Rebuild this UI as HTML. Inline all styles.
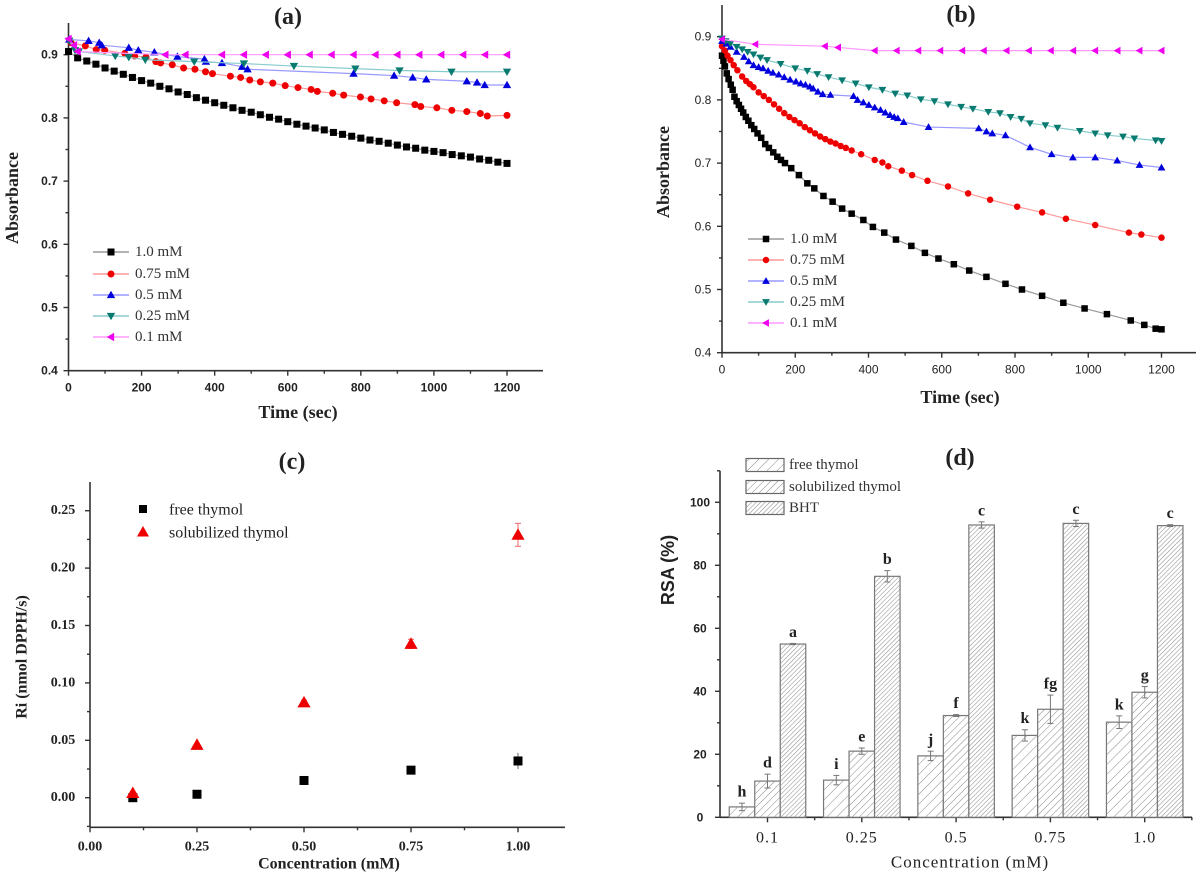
<!DOCTYPE html>
<html><head><meta charset="utf-8"><style>
html,body{margin:0;padding:0;background:#fff;}
svg{display:block;}
</style></head><body>
<svg id="fig" width="1200" height="878" viewBox="0 0 1200 878" xmlns="http://www.w3.org/2000/svg">
<defs>
<pattern id="h1" patternUnits="userSpaceOnUse" width="7" height="7" patternTransform="rotate(45)"><line x1="0" y1="0" x2="0" y2="7" stroke="#888" stroke-width="1"/></pattern>
<pattern id="h2" patternUnits="userSpaceOnUse" width="5" height="5" patternTransform="rotate(45)"><line x1="0" y1="0" x2="0" y2="5" stroke="#888" stroke-width="1"/></pattern>
<pattern id="h3" patternUnits="userSpaceOnUse" width="3.2" height="3.2" patternTransform="rotate(45)"><line x1="0" y1="0" x2="0" y2="3.2" stroke="#888" stroke-width="1"/></pattern>
</defs>
</svg>
<script>
// ---------- Panel (a) data ----------
const aT_black=[0,25,50,75,100,125,150,175,200,225,250,275,300,325,350,375,400,425,450,475,500,525,550,575,600,625,650,675,700,725,750,775,800,825,850,875,900,925,950,975,1000,1025,1050,1075,1100,1125,1150,1175,1200];
const aV_black=[0.905,0.895,0.89,0.885,0.879,0.874,0.869,0.864,0.859,0.855,0.850,0.846,0.841,0.837,0.832,0.828,0.824,0.820,0.816,0.812,0.809,0.805,0.801,0.798,0.794,0.790,0.787,0.784,0.781,0.777,0.774,0.771,0.768,0.765,0.763,0.760,0.757,0.754,0.752,0.749,0.747,0.745,0.742,0.740,0.738,0.735,0.733,0.730,0.728];
const aT_red=[7,46,76,99,154,181,212,239,252,284,315,346,375,394,443,471,496,525,559,593,628,664,681,723,753,799,828,864,898,948,964,1008,1049,1090,1127,1146,1200];
const aV_red=[0.919,0.914,0.908,0.907,0.902,0.898,0.896,0.889,0.887,0.884,0.879,0.877,0.873,0.870,0.866,0.864,0.860,0.857,0.855,0.851,0.848,0.845,0.842,0.839,0.836,0.833,0.830,0.827,0.824,0.821,0.818,0.816,0.812,0.810,0.807,0.803,0.804];
const aT_blue=[2,55,84,91,165,191,235,298,372,376,420,475,490,780,891,942,979,1090,1118,1139,1200];
const aV_blue=[0.924,0.922,0.919,0.915,0.911,0.907,0.904,0.897,0.893,0.889,0.887,0.881,0.877,0.870,0.867,0.864,0.861,0.858,0.856,0.852,0.852];
const aT_teal=[2,18,28,128,165,210,344,480,617,785,906,1048,1200];
const aV_teal=[0.922,0.907,0.905,0.898,0.896,0.892,0.889,0.886,0.882,0.878,0.875,0.873,0.873];
const aT_mag=[0,15,25,265,320,420,480,540,600,660,720,780,840,900,960,1020,1080,1140,1200];
const aV_mag=[0.925,0.915,0.905,0.90,0.90,0.90,0.90,0.90,0.90,0.90,0.90,0.90,0.90,0.90,0.90,0.90,0.90,0.90,0.90];
// ---------- Panel (b) data ----------
const bT_black=[0,4,8,13,18,24,29,34,40,46,52,58,65,72,80,88,97,107,118,128,140,151,161,172,189,210,233,252,277,302,328,354,386,412,443,475,517,554,591,633,675,722,774,819,874,932,990,1051,1116,1153,1184,1200];
const bV_black=[0.870,0.862,0.853,0.842,0.833,0.824,0.816,0.805,0.798,0.792,0.786,0.780,0.773,0.767,0.760,0.754,0.747,0.740,0.730,0.724,0.717,0.710,0.705,0.700,0.692,0.681,0.668,0.660,0.648,0.639,0.628,0.620,0.610,0.599,0.590,0.579,0.569,0.558,0.549,0.540,0.530,0.520,0.509,0.500,0.490,0.479,0.470,0.461,0.451,0.444,0.438,0.437];
const bT_red=[0,8,15,23,32,42,55,66,76,86,100,114,128,142,156,170,184,198,212,226,240,254,268,282,296,310,324,338,354,380,417,438,454,491,519,561,617,672,732,806,874,939,1019,1111,1145,1200];
const bV_red=[0.885,0.878,0.870,0.863,0.855,0.847,0.837,0.830,0.825,0.820,0.812,0.806,0.800,0.793,0.786,0.779,0.773,0.768,0.763,0.757,0.752,0.747,0.742,0.738,0.734,0.731,0.727,0.724,0.720,0.714,0.705,0.701,0.695,0.688,0.681,0.672,0.663,0.652,0.642,0.631,0.622,0.612,0.602,0.590,0.587,0.582];
const bT_blue=[0,12,23,40,60,73,86,100,112,126,139,155,170,186,202,215,228,240,249,262,275,296,359,370,386,401,417,433,446,459,470,480,496,564,701,722,738,774,841,900,958,1019,1079,1140,1200];
const bV_blue=[0.893,0.889,0.884,0.876,0.868,0.861,0.855,0.852,0.850,0.846,0.843,0.840,0.836,0.832,0.829,0.826,0.824,0.821,0.818,0.813,0.809,0.808,0.806,0.800,0.796,0.792,0.788,0.784,0.780,0.776,0.773,0.771,0.765,0.757,0.755,0.750,0.747,0.744,0.725,0.714,0.709,0.709,0.704,0.697,0.693];
const bT_teal=[0,10,23,40,55,70,86,105,123,160,200,233,260,291,328,365,401,438,473,506,543,580,617,653,685,727,759,788,817,841,883,916,977,1019,1053,1095,1126,1184,1200];
const bV_teal=[0.897,0.893,0.889,0.884,0.880,0.876,0.872,0.867,0.863,0.857,0.850,0.846,0.841,0.836,0.831,0.826,0.820,0.816,0.810,0.807,0.801,0.798,0.793,0.789,0.786,0.781,0.779,0.773,0.770,0.763,0.760,0.756,0.751,0.747,0.744,0.742,0.739,0.736,0.735];
const bT_mag=[0,91,281,317,417,477,536,596,656,715,777,838,898,959,1019,1080,1140,1200];
const bV_mag=[0.896,0.888,0.885,0.883,0.878,0.878,0.878,0.878,0.878,0.878,0.878,0.878,0.878,0.878,0.878,0.878,0.878,0.878];
// ---------- Panel (c) data ----------
const cX=[0.1,0.25,0.5,0.75,1.0];
const cFree=[0.000,0.003,0.015,0.024,0.032];
const cFreeErr=[0.001,0.001,0.001,0.002,0.007];
const cSol=[0.004,0.046,0.083,0.134,0.229];
const cSolErr=[0.001,0.001,0.002,0.004,0.010];
// ---------- Panel (d) data ----------
const dCats=["0.1","0.25","0.5","0.75","1.0"];
const dFree=[3.3,11.8,19.5,26.0,30.2];
const dFreeErr=[1.2,1.5,1.5,1.8,2.0];
const dSol=[11.5,21.0,32.3,34.3,39.7];
const dSolErr=[2.2,1.0,0.3,4.5,1.8];
const dBHT=[55.0,76.5,92.8,93.3,92.6];
const dBHTErr=[0.2,1.8,1.0,1.0,0.3];
const dFreeLbl=["h","i","j","k","k"];
const dSolLbl=["d","e","f","fg","g"];
const dBHTLbl=["a","b","c","c","c"];

const svg=document.getElementById('fig');
const NS='http://www.w3.org/2000/svg';
function el(tag,attrs,parent){const e=document.createElementNS(NS,tag);for(const k in attrs)e.setAttribute(k,attrs[k]);(parent||svg).appendChild(e);return e;}
function txt(s,x,y,style,parent){const t=el('text',{x:x,y:y,'dominant-baseline':'central','text-anchor':'middle',style:style},parent);t.textContent=s;return t;}
function grp(name){const g=el('g',{});return g;}

function marker(g,shape,x,y,c,s){
  let m;
  if(shape==='sq') m=el('rect',{x:x-s/2,y:y-s/2,width:s,height:s,fill:c},g);
  else if(shape==='ci') m=el('circle',{cx:x,cy:y,r:s/2,fill:c},g);
  else if(shape==='up') m=el('polygon',{points:`${x},${y-s*0.6} ${x-s*0.6},${y+s*0.45} ${x+s*0.6},${y+s*0.45}`,fill:c},g);
  else if(shape==='dn') m=el('polygon',{points:`${x},${y+s*0.6} ${x-s*0.6},${y-s*0.45} ${x+s*0.6},${y-s*0.45}`,fill:c},g);
  else m=el('polygon',{points:`${x-s*0.6},${y} ${x+s*0.45},${y-s*0.6} ${x+s*0.45},${y+s*0.6}`,fill:c},g);
  return m;
}

const AX='#333';
function axes(g,x0,x1,yTop,yBot){
  el('line',{x1:x0,y1:yTop,x2:x0,y2:yBot,stroke:AX,'stroke-width':1.6},g);
  el('line',{x1:x0,y1:yBot,x2:x1,y2:yBot,stroke:AX,'stroke-width':1.6},g);
}

// ---------- Kinetic panels ----------
function kinetic(name,P,series,tickBold,legY,legLX,legTX,ms){
  const g=grp(name);
  const sx=t=>P.x0+t*(P.x1200-P.x0)/1200;
  const sy=v=>P.y09+(0.9-v)*(P.y04-P.y09)/0.5;
  axes(g,P.x0,P.xEnd,P.yTop,P.y04);
  const tf=`font-family:"Liberation Sans",sans-serif;font-size:12px;fill:#222;${tickBold?'font-weight:bold;':''}`;
  for(let v=0.4;v<=0.9001;v+=0.05){
    const y=sy(v);const major=Math.round(v*100)%10===0;
    el('line',{x1:P.x0-(major?5:3),y1:y,x2:P.x0,y2:y,stroke:AX,'stroke-width':1.4},g);
    if(major){const t=txt(v.toFixed(1),P.x0-19,y,tf,g);}
  }
  for(let t=0;t<=1300;t+=100){
    const x=sx(t);if(x>P.xEnd)break;const major=t%200===0;
    el('line',{x1:x,y1:P.y04,x2:x,y2:P.y04+(major?5:3),stroke:AX,'stroke-width':1.4},g);
    if(major&&t<=1200){const l=txt(String(t),x,P.y04+17,tf,g);}
  }
  series.forEach((s,i)=>{
    const sg=el('g',{},g);
    
    
    el('polyline',{points:s.t.map((t,j)=>sx(t)+','+sy(s.v[j])).join(' '),fill:'none',stroke:s.lc,'stroke-width':1.2},sg);
    s.t.forEach((t,j)=>{const m=marker(sg,s.sh,sx(t),sy(s.v[j]),s.c,ms);});
    // legend
    const lg=el('g',{},g);
    
    
    el('line',{x1:legLX,y1:legY[i],x2:legLX+36,y2:legY[i],stroke:s.lc,'stroke-width':1.6},lg);
    marker(lg,s.sh,legLX+18,legY[i],s.c,ms);
    const lt=txt(s.lab,legTX,legY[i],'font-family:"Liberation Serif",serif;font-size:15px;fill:#333;',lg);lt.setAttribute('text-anchor','start');
  });
  return {g,sx,sy};
}
const aSeries=[
 {t:aT_black,v:aV_black,c:'#000',lc:'#999',sh:'sq',lab:'1.0 mM'},
 {t:aT_red,v:aV_red,c:'#e00',lc:'#f99',sh:'ci',lab:'0.75 mM'},
 {t:aT_blue,v:aV_blue,c:'#00d',lc:'#99f',sh:'up',lab:'0.5 mM'},
 {t:aT_teal,v:aV_teal,c:'#087a70',lc:'#8cc',sh:'dn',lab:'0.25 mM'},
 {t:aT_mag,v:aV_mag,c:'#e0e',lc:'#f9f',sh:'lf',lab:'0.1 mM'}];
const bSeries=[
 {t:bT_black,v:bV_black,c:'#000',lc:'#999',sh:'sq',lab:'1.0 mM'},
 {t:bT_red,v:bV_red,c:'#e00',lc:'#f99',sh:'ci',lab:'0.75 mM'},
 {t:bT_blue,v:bV_blue,c:'#00d',lc:'#99f',sh:'up',lab:'0.5 mM'},
 {t:bT_teal,v:bV_teal,c:'#087a70',lc:'#8cc',sh:'dn',lab:'0.25 mM'},
 {t:bT_mag,v:bV_mag,c:'#e0e',lc:'#f9f',sh:'lf',lab:'0.1 mM'}];

const pa=kinetic('panel-a',{x0:68.5,x1200:507,xEnd:543,y09:54.7,y04:370.7,yTop:23},aSeries,true,[252,274,295,316,337],93,135,7);
const ta=txt('(a)',288,17,'font-family:"Liberation Serif",serif;font-weight:bold;font-size:24px;fill:#222;',pa.g);
const xa=txt('Time (sec)',298,412,'font-family:"Liberation Serif",serif;font-weight:bold;font-size:18px;fill:#222;',pa.g);
const ya=txt('Absorbance',12,198,'font-family:"Liberation Serif",serif;font-weight:bold;font-size:18px;fill:#222;',pa.g);ya.setAttribute('transform','rotate(-90 12 198)');

const pb=kinetic('panel-b',{x0:722,x1200:1161.5,xEnd:1196,y09:36.7,y04:352.7,yTop:5},bSeries,false,[239,260,281,302,323],748,790,6.5);
const tb=txt('(b)',961,15,'font-family:"Liberation Serif",serif;font-weight:bold;font-size:24px;fill:#222;',pb.g);
const xb=txt('Time (sec)',960,397,'font-family:"Liberation Serif",serif;font-weight:bold;font-size:18px;fill:#222;',pb.g);
const yb=txt('Absorbance',663,172,'font-family:"Liberation Serif",serif;font-weight:bold;font-size:18px;fill:#222;',pb.g);yb.setAttribute('transform','rotate(-90 663 172)');

// ---------- Panel (c) ----------
(function(){
  const g=grp('panel-c');
  const x0=90,xPer=428,y0=797.7,yPer=1148; // px per unit
  const sx=v=>x0+v*xPer, sy=v=>y0-v*yPer;
  axes(g,x0,565,482,827.3);
  const tf='font-family:"Liberation Serif",serif;font-weight:bold;font-size:14px;fill:#222;';
  for(let i=-1;i<=10;i++){const v=i*0.025;const y=sy(v);if(y<485)break;const major=i%2===0&&i>=0;
    el('line',{x1:x0-(major?5:3),y1:y,x2:x0,y2:y,stroke:AX,'stroke-width':1.4},g);
    if(major){const l=txt(v.toFixed(2),x0-27,y,tf,g);}}
  for(let i=0;i<=8;i++){const v=i*0.125;const x=sx(v);const major=i%2===0;
    el('line',{x1:x,y1:827.3,x2:x,y2:827.3+(major?5:3),stroke:AX,'stroke-width':1.4},g);
    if(major){const l=txt(v.toFixed(2),x,847,tf,g);}}
  const fg=el('g',{},g);
  
  
  cX.forEach((c,i)=>{
    el('line',{x1:sx(c),y1:sy(cFree[i]+cFreeErr[i]),x2:sx(c),y2:sy(cFree[i]-cFreeErr[i]),stroke:'#666','stroke-width':1},fg);
    const m=marker(fg,'sq',sx(c),sy(cFree[i]),'#000',9);});
  const sg=el('g',{},g);
  
  
  cX.forEach((c,i)=>{
    const y1=sy(cSol[i]+cSolErr[i]),y2=sy(cSol[i]-cSolErr[i]);
    el('line',{x1:sx(c),y1:y1,x2:sx(c),y2:y2,stroke:'#e66','stroke-width':1},sg);
    el('line',{x1:sx(c)-3,y1:y1,x2:sx(c)+3,y2:y1,stroke:'#e66','stroke-width':1},sg);
    el('line',{x1:sx(c)-3,y1:y2,x2:sx(c)+3,y2:y2,stroke:'#e66','stroke-width':1},sg);
    const m=marker(sg,'up',sx(c),sy(cSol[i]),'#e00',11);});
  const l1=el('g',{},g);
  marker(l1,'sq',143,509,'#000',8);
  const t1=txt('free thymol',169,510,'font-family:"Liberation Serif",serif;font-size:16px;fill:#222;',l1);t1.setAttribute('text-anchor','start');
  const l2=el('g',{},g);
  marker(l2,'up',143,532,'#e00',10);
  const t2=txt('solubilized thymol',169,533,'font-family:"Liberation Serif",serif;font-size:16px;fill:#222;',l2);t2.setAttribute('text-anchor','start');
  const tt=txt('(c)',292,462,'font-family:"Liberation Serif",serif;font-weight:bold;font-size:24px;fill:#222;',g);
  const xt=txt('Concentration (mM)',329,864,'font-family:"Liberation Serif",serif;font-weight:bold;font-size:16px;fill:#222;',g);
  const yt=txt('Ri (nmol DPPH/s)',22,657,'font-family:"Liberation Serif",serif;font-weight:bold;font-size:16px;fill:#222;',g);yt.setAttribute('transform','rotate(-90 22 657)');
})();

// ---------- Panel (d) ----------
(function(){
  const g=grp('panel-d');
  const x0=720,y0=817.3,yPer=3.15,c0=767.5,step=94.3,bw=25.5;
  const sy=v=>y0-v*yPer, cx=i=>c0+i*step;
  axes(g,x0,1192,470.7,y0);
  const tf='font-family:"Liberation Sans",sans-serif;font-weight:bold;font-size:12px;fill:#222;';
  for(let v=0;v<=110;v+=10){const y=sy(v);const major=v%20===0;
    el('line',{x1:x0-(major?5:3),y1:y,x2:x0,y2:y,stroke:AX,'stroke-width':1.4},g);
    if(major){const l=txt(String(v),x0-20,y,tf,g);}}
  dCats.forEach((c,i)=>{
    el('line',{x1:cx(i),y1:y0,x2:cx(i),y2:y0+5,stroke:AX,'stroke-width':1.4},g);
    el('line',{x1:cx(i)+step/2,y1:y0,x2:cx(i)+step/2,y2:y0+3,stroke:AX,'stroke-width':1.4},g);
    const l=txt(c,cx(i),838,'font-family:"Liberation Serif",serif;font-size:16px;fill:#222;letter-spacing:1px;',g);
    
    
  });
  const sets=[[dFree,dFreeErr,dFreeLbl,'url(#h1)',-1,'free-thymol'],[dSol,dSolErr,dSolLbl,'url(#h2)',0,'solubilized-thymol'],[dBHT,dBHTErr,dBHTLbl,'url(#h3)',1,'bht']];
  sets.forEach(([vals,errs,lbls,fill,off,nm])=>{
    const sg=el('g',{},g);
    
    
    vals.forEach((v,i)=>{
      const x=cx(i)+off*bw-bw/2;
      const r=el('rect',{x:x,y:sy(v),width:bw,height:v*yPer,fill:'#fff',stroke:'#777','stroke-width':1.2},sg);
      
      
      el('rect',{x:x,y:sy(v),width:bw,height:v*yPer,fill:fill},sg);
      const xm=x+bw/2,ya=sy(v+errs[i]),yb=sy(v-errs[i]);
      el('line',{x1:xm,y1:ya,x2:xm,y2:yb,stroke:'#777','stroke-width':1},sg);
      el('line',{x1:xm-3,y1:ya,x2:xm+3,y2:ya,stroke:'#777','stroke-width':1},sg);
      el('line',{x1:xm-3,y1:yb,x2:xm+3,y2:yb,stroke:'#777','stroke-width':1},sg);
      const lt=txt(lbls[i],xm,ya-11,'font-family:"Liberation Serif",serif;font-weight:bold;font-size:16px;fill:#222;',sg);
      
      
    });
  });
  const legN=['free thymol','solubilized thymol','BHT'],legF=['url(#h1)','url(#h2)','url(#h3)'],legYs=[465,487,508];
  legN.forEach((n,i)=>{
    const lg=el('g',{},g);
    
    
    el('rect',{x:746,y:legYs[i]-6.5,width:38,height:13,fill:'#fff',stroke:'#666','stroke-width':1.2},lg);
    el('rect',{x:746,y:legYs[i]-6.5,width:38,height:13,fill:legF[i]},lg);
    const t=txt(n,789,legYs[i],'font-family:"Liberation Serif",serif;font-size:15px;fill:#333;',lg);t.setAttribute('text-anchor','start');
  });
  const tt=txt('(d)',960,458,'font-family:"Liberation Serif",serif;font-weight:bold;font-size:24px;fill:#222;',g);
  const xt=txt('Concentration (mM)',970,862,'font-family:"Liberation Serif",serif;font-size:17px;fill:#222;letter-spacing:1px;',g);
  const yt=txt('RSA (%)',668,570,'font-family:"Liberation Sans",sans-serif;font-weight:bold;font-size:18px;fill:#222;',g);yt.setAttribute('transform','rotate(-90 668 570)');
})();
</script>
</body></html>
